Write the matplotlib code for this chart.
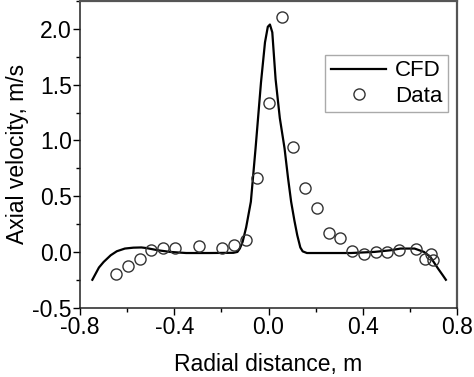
import numpy as np
import matplotlib
matplotlib.use("Agg")
from matplotlib import pyplot as plt
from matplotlib.ticker import MultipleLocator

plt.rcParams['font.family'] = ['Liberation Sans', 'DejaVu Sans']

# CFD profile
cfd_x = [-0.748, -0.72, -0.70, -0.67, -0.644, -0.61, -0.574, -0.54, -0.52, -0.47, -0.418,
         -0.35, -0.25, -0.149, -0.132, -0.122, -0.11, -0.095, -0.075, -0.055, -0.032,
         -0.015, -0.003, 0.006, 0.016, 0.03, 0.048, 0.068, 0.083, 0.096, 0.11, 0.122,
         0.135, 0.145, 0.163, 0.25, 0.35, 0.45, 0.52, 0.56, 0.62, 0.66, 0.687, 0.72,
         0.74, 0.753]
cfd_y = [-0.25, -0.14, -0.09, -0.03, 0.006, 0.03, 0.038, 0.04, 0.035, 0.015, 0.0,
         -0.01, -0.01, -0.008, 0.0, 0.03, 0.09, 0.22, 0.45, 0.93, 1.52,
         1.88, 2.02, 2.04, 1.97, 1.55, 1.2, 0.93, 0.66, 0.45, 0.28, 0.15,
         0.04, 0.005, -0.01, -0.01, -0.01, 0.0, 0.015, 0.03, 0.03, 0.0, -0.045, -0.15,
         -0.21, -0.25]

# measured data points
data_x = [-0.649, -0.598, -0.547, -0.499, -0.449, -0.398, -0.296, -0.197, -0.147, -0.096,
          -0.047, 0.003, 0.057, 0.106, 0.153, 0.207, 0.255, 0.305, 0.356, 0.407,
          0.455, 0.504, 0.555, 0.626, 0.664, 0.691, 0.697]
data_y = [-0.20, -0.125, -0.06, 0.015, 0.036, 0.036, 0.054, 0.036, 0.066, 0.11,
          0.666, 1.335, 2.109, 0.938, 0.573, 0.391, 0.167, 0.122, 0.012, -0.021,
          0.0, 0.0, 0.015, 0.027, -0.06, -0.02, -0.069]

fig = plt.figure(figsize=(4.74, 3.77), dpi=100)
ax = fig.add_axes([0.169, 0.184, 0.795, 0.813])

ax.plot(cfd_x, cfd_y, color='black', lw=1.6, label='CFD')
ax.plot(data_x, data_y, 'o', ms=8, mfc='none', mec='#333333', mew=1.0, label='Data')

ax.set_xlim(-0.8, 0.8)
ax.set_ylim(-0.5, 2.25)
ax.xaxis.set_minor_locator(MultipleLocator(0.2))
ax.yaxis.set_minor_locator(MultipleLocator(0.25))
ax.set_xticks([-0.8, -0.4, 0.0, 0.4, 0.8])
ax.set_xticklabels(['-0.8', '-0.4', '0.0', '0.4', '0.8'])
ax.set_yticks([-0.5, 0.0, 0.5, 1.0, 1.5, 2.0])
ax.set_yticklabels(['-0.5', '0.0', '0.5', '1.0', '1.5', '2.0'])
ax.tick_params(which='major', direction='out', length=5, width=1, labelsize=16.5, pad=1)
ax.tick_params(which='minor', direction='out', length=3, width=1)

for s in ['left', 'bottom']:
    ax.spines[s].set_color('#222222')
    ax.spines[s].set_linewidth(1.1)
for s in ['top', 'right']:
    ax.spines[s].set_color('#555555')
    ax.spines[s].set_linewidth(1.6)

ax.set_xlabel('Radial distance, m', fontsize=16.5, labelpad=10)
ax.set_ylabel('Axial velocity, m/s', fontsize=16.5, labelpad=2)

leg = ax.legend(loc='upper right', bbox_to_anchor=(0.977, 0.825), fontsize=16,
                handlelength=2.5, handletextpad=0.4, borderpad=0.25, labelspacing=0.2,
                borderaxespad=0, fancybox=False, edgecolor='#aaaaaa', framealpha=1)
leg.get_frame().set_linewidth(1.0)

plt.savefig('out.png', dpi=100)
